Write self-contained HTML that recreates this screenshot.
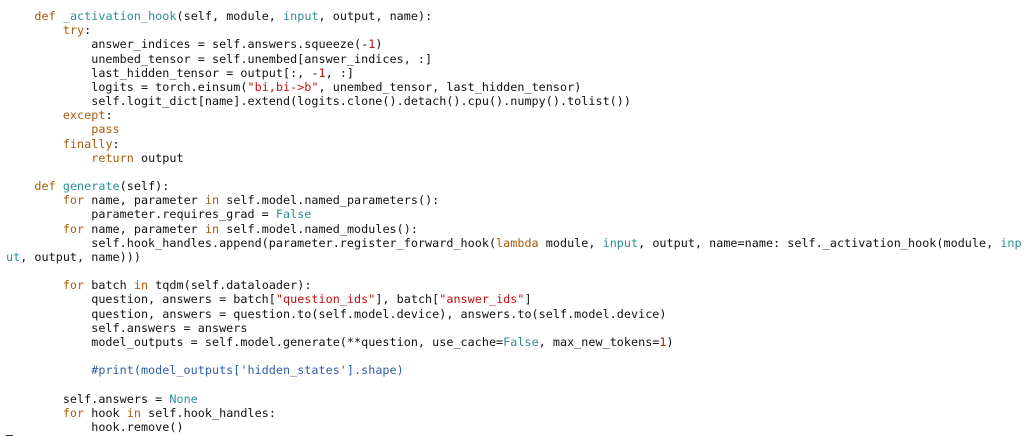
<!DOCTYPE html>
<html>
<head>
<meta charset="utf-8">
<style>
html,body{margin:0;padding:0;background:#fff;width:1024px;height:436px;overflow:hidden}
pre{position:absolute;margin:0;left:6px;white-space:pre;font-family:"DejaVu Sans Mono","Liberation Mono",monospace;font-size:11.75px;letter-spacing:0.028px;color:#111;line-height:14px;filter:blur(.3px)}
.k{color:#a85a0c}
.t{color:#2b8f94}
.s{color:#c01010}
.c{color:#2f5ca8}
.cur{position:absolute;left:6px;top:434.5px;width:7px;height:1px;background:#333}
</style>
</head>
<body>
<pre style="top:9px">    <span class="k">def</span> <span class="t">_activation_hook</span>(self, module, <span class="t">input</span>, output, name):</pre>
<pre style="top:23.2px">        <span class="k">try</span>:</pre>
<pre style="top:37.3px">            answer_indices = self.answers.squeeze(-<span class="s">1</span>)</pre>
<pre style="top:51.5px">            unembed_tensor = self.unembed[answer_indices, :]</pre>
<pre style="top:65.7px">            last_hidden_tensor = output[:, -<span class="s">1</span>, :]</pre>
<pre style="top:79.9px">            logits = torch.einsum(<span class="s">"bi,bi-&gt;b"</span>, unembed_tensor, last_hidden_tensor)</pre>
<pre style="top:94px">            self.logit_dict[name].extend(logits.clone().detach().cpu().numpy().tolist())</pre>
<pre style="top:108.2px">        <span class="k">except</span>:</pre>
<pre style="top:122.4px">            <span class="k">pass</span></pre>
<pre style="top:136.5px">        <span class="k">finally</span>:</pre>
<pre style="top:150.7px">            <span class="k">return</span> output</pre>
<pre style="top:179px">    <span class="k">def</span> <span class="t">generate</span>(self):</pre>
<pre style="top:193.2px">        <span class="k">for</span> name, parameter <span class="k">in</span> self.model.named_parameters():</pre>
<pre style="top:207.4px">            parameter.requires_grad = <span class="t">False</span></pre>
<pre style="top:221.6px">        <span class="k">for</span> name, parameter <span class="k">in</span> self.model.named_modules():</pre>
<pre style="top:235.7px">            self.hook_handles.append(parameter.register_forward_hook(<span class="k">lambda</span> module, <span class="t">input</span>, output, name=name: self._activation_hook(module, <span class="t">inp</span></pre>
<pre style="top:249.9px"><span class="t">ut</span>, output, name)))</pre>
<pre style="top:278.2px">        <span class="k">for</span> batch <span class="k">in</span> tqdm(self.dataloader):</pre>
<pre style="top:292.4px">            question, answers = batch[<span class="s">"question_ids"</span>], batch[<span class="s">"answer_ids"</span>]</pre>
<pre style="top:306.6px">            question, answers = question.to(self.model.device), answers.to(self.model.device)</pre>
<pre style="top:320.8px">            self.answers = answers</pre>
<pre style="top:334.9px">            model_outputs = self.model.generate(**question, use_cache=<span class="t">False</span>, max_new_tokens=<span class="s">1</span>)</pre>
<pre style="top:363.3px">            <span class="c">#print(model_outputs['hidden_states'].shape)</span></pre>
<pre style="top:391.6px">        self.answers = <span class="t">None</span></pre>
<pre style="top:405.8px">        <span class="k">for</span> hook <span class="k">in</span> self.hook_handles:</pre>
<pre style="top:420px">            hook.remove()</pre>
<div class="cur"></div>
</body>
</html>
